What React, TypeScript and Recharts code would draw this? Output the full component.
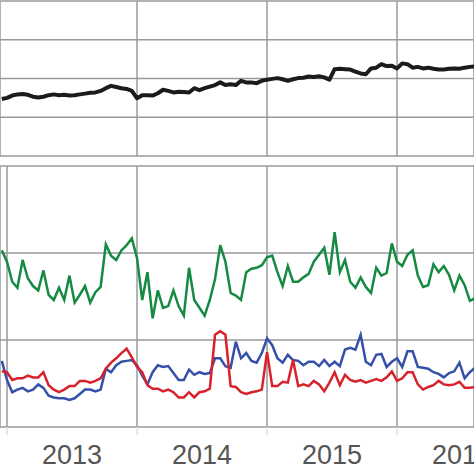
import React from "react";
import { LineChart, Line, XAxis, YAxis, CartesianGrid } from "recharts";

// time in decimal years, roughly every two weeks
const years = [
  2012.96, 2013.0, 2013.04, 2013.08, 2013.12, 2013.16, 2013.2, 2013.24, 2013.28, 2013.32,
  2013.36, 2013.4, 2013.44, 2013.48, 2013.52, 2013.56, 2013.6, 2013.64, 2013.68, 2013.72,
  2013.76, 2013.8, 2013.84, 2013.88, 2013.92, 2013.96, 2014.0, 2014.04, 2014.08, 2014.12,
  2014.16, 2014.2, 2014.24, 2014.28, 2014.32, 2014.36, 2014.4, 2014.44, 2014.48, 2014.52,
  2014.56, 2014.6, 2014.64, 2014.68, 2014.72, 2014.76, 2014.8, 2014.84, 2014.88, 2014.92,
  2014.96, 2015.0, 2015.04, 2015.08, 2015.12, 2015.16, 2015.2, 2015.24, 2015.28, 2015.32,
  2015.36, 2015.4, 2015.44, 2015.48, 2015.52, 2015.56, 2015.6, 2015.64, 2015.68, 2015.72,
  2015.76, 2015.8, 2015.84, 2015.88, 2015.92, 2015.96, 2016.0, 2016.04, 2016.08, 2016.12,
  2016.16, 2016.2, 2016.24, 2016.28, 2016.32, 2016.36, 2016.4, 2016.44, 2016.48, 2016.52,
  2016.56, 2016.6,
];

// top panel
const indexLevel = [
  1.47, 1.5, 1.56, 1.59, 1.6, 1.58, 1.53, 1.51, 1.53, 1.57, 1.59, 1.57, 1.58, 1.56, 1.57, 1.59,
  1.61, 1.63, 1.64, 1.68, 1.75, 1.81, 1.78, 1.75, 1.73, 1.68,
  1.49, 1.57, 1.57, 1.56, 1.62, 1.71, 1.68, 1.64, 1.66, 1.65, 1.64, 1.75, 1.7, 1.75, 1.79, 1.83,
  1.9, 1.83, 1.85, 1.83, 1.94, 1.9, 1.9, 1.88, 1.94,
  1.97, 1.99, 2.01, 1.98, 1.94, 1.98, 2.01, 2.02, 2.05, 2.04, 2.06, 2.03, 1.97, 2.24, 2.25, 2.24,
  2.23, 2.18, 2.13, 2.11, 2.26, 2.28, 2.37, 2.32, 2.33,
  2.26, 2.39, 2.37, 2.28, 2.3, 2.26, 2.28, 2.25, 2.23, 2.23, 2.25, 2.26, 2.25, 2.28, 2.3, 2.31,
];

// bottom panel
const greenSeries = [
  2.03, 1.9, 1.67, 1.6, 1.92, 1.71, 1.62, 1.57, 1.8, 1.52, 1.46, 1.6, 1.46, 1.74, 1.43, 1.52,
  1.62, 1.43, 1.55, 1.61, 2.1, 1.97, 1.92, 2.03, 2.09, 2.17,
  1.94, 1.46, 1.78, 1.25, 1.57, 1.37, 1.39, 1.57, 1.39, 1.28, 1.83, 1.46, 1.37, 1.28, 1.46, 1.7,
  2.09, 1.9, 1.54, 1.51, 1.46, 1.78, 1.82, 1.83, 1.86,
  1.95, 1.97, 1.78, 1.62, 1.85, 1.67, 1.67, 1.72, 1.76, 1.9, 1.98, 2.06, 1.75, 2.24, 1.78, 1.92,
  1.67, 1.6, 1.72, 1.61, 1.54, 1.83, 1.74, 1.77, 2.11,
  1.9, 1.85, 1.98, 2.03, 1.74, 1.61, 1.63, 1.87, 1.78, 1.85, 1.75, 1.57, 1.74, 1.63, 1.45, 1.48,
];

const redSeries = [
  0.64, 0.63, 0.54, 0.56, 0.56, 0.59, 0.57, 0.57, 0.63, 0.48, 0.43, 0.4, 0.43, 0.47, 0.47, 0.53,
  0.53, 0.51, 0.53, 0.56, 0.67, 0.74, 0.79, 0.85, 0.9, 0.8,
  0.69, 0.63, 0.48, 0.44, 0.44, 0.41, 0.43, 0.4, 0.34, 0.34, 0.4, 0.34, 0.4, 0.41, 0.44, 1.06,
  1.1, 1.06, 0.47, 0.46, 0.4, 0.38, 0.4, 0.41, 0.43,
  0.86, 0.47, 0.47, 0.52, 0.51, 0.77, 0.47, 0.49, 0.47, 0.53, 0.49, 0.41, 0.51, 0.63, 0.48, 0.6,
  0.54, 0.52, 0.54, 0.51, 0.53, 0.55, 0.53, 0.57, 0.64,
  0.53, 0.56, 0.63, 0.63, 0.49, 0.43, 0.46, 0.48, 0.53, 0.49, 0.48, 0.49, 0.52, 0.45, 0.45, 0.46,
];

const blueSeries = [
  0.76, 0.54, 0.4, 0.43, 0.45, 0.41, 0.43, 0.49, 0.45, 0.36, 0.34, 0.33, 0.33, 0.31, 0.33, 0.38,
  0.43, 0.43, 0.41, 0.43, 0.67, 0.63, 0.71, 0.75, 0.76, 0.77,
  0.71, 0.59, 0.49, 0.63, 0.71, 0.69, 0.7, 0.62, 0.54, 0.54, 0.66, 0.6, 0.63, 0.61, 0.62, 0.79,
  0.79, 0.7, 0.68, 0.98, 0.79, 0.85, 0.76, 0.74, 0.85,
  1.02, 0.94, 0.79, 0.74, 0.83, 0.77, 0.76, 0.71, 0.75, 0.75, 0.7, 0.77, 0.7, 0.75, 0.7, 0.89,
  0.91, 0.89, 1.06, 0.75, 0.71, 0.83, 0.84, 0.69, 0.75,
  0.79, 0.69, 0.87, 0.87, 0.69, 0.68, 0.67, 0.63, 0.61, 0.57, 0.62, 0.64, 0.74, 0.56, 0.63, 0.68,
];

const yearTicks = [2013, 2014, 2015, 2016];
// year labels sit in the middle of each year
const labelTicks = [2013.5, 2014.5, 2015.5, 2016.5];
const X_DOMAIN: [number, number] = [2012.946, 2016.592];

const rows = years.map((t, i) => ({
  t,
  black: indexLevel[i],
  green: greenSeries[i],
  red: redSeries[i],
  blue: blueSeries[i],
}));

const GRID = "#9a9a9a";

const App = () => {
  return (
    <div style={{ position: "absolute", left: 0, top: 0, width: 474, height: 474, overflow: "hidden", background: "#fff" }}>
      <div style={{ position: "absolute", left: 0, top: 0 }}>
        <LineChart width={474} height={160} data={rows} margin={{ top: 1, right: 0, bottom: 4, left: 0 }}>
          <CartesianGrid stroke={GRID} strokeWidth={1.5} />
          <XAxis dataKey="t" type="number" domain={X_DOMAIN} ticks={yearTicks} allowDataOverflow hide />
          <YAxis domain={[0, 4]} ticks={[0, 1, 2, 3, 4]} hide />
          <Line dataKey="black" stroke="#1b1b1b" strokeWidth={4} dot={false} isAnimationActive={false} strokeLinejoin="round" />
        </LineChart>
      </div>
      <div style={{ position: "absolute", left: 0, top: 160 }}>
        <LineChart width={474} height={314} data={rows} margin={{ top: 6, right: 0, bottom: 3, left: 0 }}>
          <CartesianGrid xAxisId="g" stroke={GRID} strokeWidth={1.5} />
          <XAxis
            xAxisId="g"
            dataKey="t"
            type="number"
            domain={X_DOMAIN}
            ticks={yearTicks}
            allowDataOverflow
            axisLine={false}
            tickLine={{ stroke: "#e2e2e2", strokeWidth: 1.5 }}
            tickSize={8}
            tickFormatter={() => ""}
            height={8}
          />
          <XAxis
            xAxisId="l"
            dataKey="t"
            type="number"
            domain={X_DOMAIN}
            ticks={labelTicks}
            interval={0}
            allowDataOverflow
            axisLine={false}
            tickLine={false}
            tickMargin={4}
            height={36}
            tickFormatter={(v: number) => String(Math.floor(v))}
            tick={{ fill: "#555", fontSize: 27, fontFamily: "Liberation Sans, Arial, sans-serif" }}
          />
          <YAxis domain={[0, 3]} ticks={[0, 1, 2, 3]} hide />
          <Line xAxisId="g" dataKey="green" stroke="#168a43" strokeWidth={2.5} dot={false} isAnimationActive={false} />
          <Line xAxisId="g" dataKey="blue" stroke="#3550a8" strokeWidth={2.5} dot={false} isAnimationActive={false} />
          <Line xAxisId="g" dataKey="red" stroke="#d9212b" strokeWidth={2.5} dot={false} isAnimationActive={false} />
        </LineChart>
      </div>
    </div>
  );
};

export default App;
